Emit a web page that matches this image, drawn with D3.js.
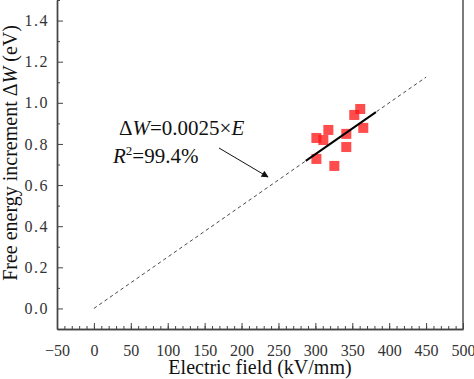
<!DOCTYPE html>
<html><head><meta charset="utf-8">
<script src="https://cdn.jsdelivr.net/npm/d3@7"></script>
<style>
html,body{margin:0;padding:0;background:#fff;}
svg{display:block;}
</style></head>
<body>
<svg id="c" width="474" height="379"></svg>
<script>
// data
const fieldKV = [360.8, 352.7, 364.9, 317.6, 301.4, 310.8, 341.9, 341.9, 301.4, 325.7];
const deltaW  = [0.970, 0.941, 0.878, 0.868, 0.829, 0.819, 0.849, 0.785, 0.727, 0.693];
const slope = 0.0025;
const fitRange = [287, 382];
const guideRange = [0, 450];
const xTicks = [-50, 0, 50, 100, 150, 200, 250, 300, 350, 400, 450, 500];
const yTicks = [0.0, 0.2, 0.4, 0.6, 0.8, 1.0, 1.2, 1.4];
const xMinor = d3.range(-50, 501, 10);
const yMinor = [0.1, 0.3, 0.5, 0.7, 0.9, 1.1, 1.3, 1.5];

const svg = d3.select("#c");
const L = 57, R = 463, T = 0, B = 329;
const x = d3.scaleLinear().domain([-50, 500]).range([L, R]);
const y = d3.scaleLinear().domain([-0.1, 1.5]).range([B, T]);
const axisColor = "#444";
const serif = "Liberation Serif";

// guide dashed line
svg.append("line")
  .attr("x1", x(guideRange[0])).attr("y1", y(slope*guideRange[0]))
  .attr("x2", x(guideRange[1])).attr("y2", y(slope*guideRange[1]))
  .attr("stroke", "#333").attr("stroke-width", 0.9).attr("stroke-dasharray", "3.5,3");

// points
svg.append("g").selectAll("rect").data(fieldKV.map((v,i)=>[v, deltaW[i]])).enter()
  .append("rect")
  .attr("x", d => x(d[0]) - 5).attr("y", d => y(d[1]) - 5)
  .attr("width", 10).attr("height", 10)
  .attr("fill", "#ff1a1a").attr("fill-opacity", 0.78);

// fit line
svg.append("line")
  .attr("x1", x(fitRange[0])).attr("y1", y(slope*fitRange[0]))
  .attr("x2", x(fitRange[1])).attr("y2", y(slope*fitRange[1]))
  .attr("stroke", "#000").attr("stroke-width", 2);

// axes
const gx = svg.append("g").attr("transform", `translate(0,${B})`)
  .call(d3.axisBottom(x).tickValues(xTicks).tickSizeInner(-6).tickSizeOuter(0).tickPadding(16)
    .tickFormat(d => d < 0 ? "\u2212" + Math.abs(d) : d));
const gxm = svg.append("g").attr("transform", `translate(0,${B})`)
  .call(d3.axisBottom(x).tickValues(xMinor).tickSizeInner(-3).tickSizeOuter(0).tickFormat(""));
const gy = svg.append("g").attr("transform", `translate(${L},0)`)
  .call(d3.axisLeft(y).tickValues(yTicks).tickSizeInner(-6).tickSizeOuter(0).tickPadding(8)
    .tickFormat(d3.format(".1f")));
const gym = svg.append("g").attr("transform", `translate(${L},0)`)
  .call(d3.axisLeft(y).tickValues(yMinor).tickSizeInner(-3).tickSizeOuter(0).tickFormat(""));
[gx, gxm, gy, gym].forEach(g => {
  g.attr("font-family", serif).attr("font-size", 16);
  g.select(".domain").attr("stroke", axisColor).attr("stroke-width", 1.4);
  g.selectAll(".tick line").attr("stroke", axisColor).attr("stroke-width", 1);
  g.selectAll(".tick text").attr("fill", "#333").style("font-family", serif).style("font-size", "16px");
});
gy.selectAll(".tick text").style("letter-spacing", "1.5px");
// right border
svg.append("line").attr("x1", R).attr("x2", R).attr("y1", T).attr("y2", B)
  .attr("stroke", axisColor).attr("stroke-width", 1.4);

// axis titles
svg.append("text").attr("x", (L+R)/2).attr("y", 374).attr("text-anchor", "middle")
  .style("font-family", serif).style("font-size", "20px").attr("fill", "#111")
  .text("Electric field (kV/mm)");
const yt = svg.append("text").attr("transform", "translate(17,153) rotate(-90)")
  .attr("text-anchor", "middle").style("font-family", serif).style("font-size", "20px").attr("fill", "#111");
yt.append("tspan").text("Free energy increment \u0394");
yt.append("tspan").style("font-style", "italic").text("W");
yt.append("tspan").text(" (eV)");

// annotation
const a1 = svg.append("text").attr("x", 119).attr("y", 135)
  .style("font-family", serif).style("font-size", "21px").attr("fill", "#111");
a1.append("tspan").text("\u0394");
a1.append("tspan").style("font-style", "italic").text("W");
a1.append("tspan").text("=0.0025\u00d7");
a1.append("tspan").style("font-style", "italic").text("E");
const a2 = svg.append("text").attr("x", 113).attr("y", 163)
  .style("font-family", serif).style("font-size", "21px").attr("fill", "#111");
a2.append("tspan").style("font-style", "italic").text("R");
a2.append("tspan").style("font-size", "13px").attr("dy", -8).text("2");
a2.append("tspan").attr("dy", 8).text("=99.4%");

// arrow
svg.append("defs").append("marker").attr("id", "ah")
  .attr("viewBox", "0 0 10 10").attr("refX", 9).attr("refY", 5)
  .attr("markerWidth", 9).attr("markerHeight", 7).attr("markerUnits", "userSpaceOnUse")
  .attr("orient", "auto")
  .append("path").attr("d", "M0,0 L10,5 L0,10 Z").attr("fill", "#111");
svg.append("line").attr("x1", 219).attr("y1", 148).attr("x2", 268).attr("y2", 177)
  .attr("stroke", "#111").attr("stroke-width", 1).attr("marker-end", "url(#ah)");
</script>
</body></html>
